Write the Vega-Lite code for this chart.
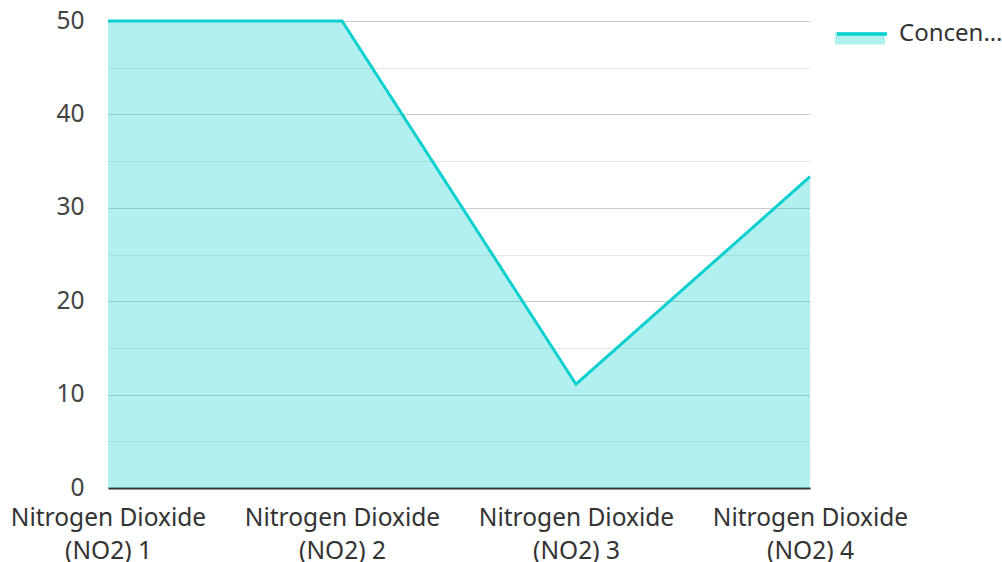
{
  "$schema": "https://vega.github.io/schema/vega-lite/v6.json",
  "width": 702,
  "height": 467,
  "autosize": {"type": "none"},
  "padding": {"left": 108, "top": 21, "right": 192, "bottom": 74},
  "background": "white",
  "config": {
    "font": "Noto Sans",
    "view": {"stroke": null}
  },
  "data": {
    "values": [
      {"pollutant": "Nitrogen Dioxide (NO2) 1", "value": 50, "series": "Concentration"},
      {"pollutant": "Nitrogen Dioxide (NO2) 2", "value": 50, "series": "Concentration"},
      {"pollutant": "Nitrogen Dioxide (NO2) 3", "value": 11.11, "series": "Concentration"},
      {"pollutant": "Nitrogen Dioxide (NO2) 4", "value": 33.33, "series": "Concentration"}
    ]
  },
  "encoding": {
    "x": {
      "field": "pollutant",
      "type": "ordinal",
      "sort": null,
      "scale": {"type": "point", "padding": 0},
      "axis": {
        "title": null,
        "labelAngle": 0,
        "labelExpr": "[slice(datum.label, 0, 16), slice(datum.label, 17)]",
        "labelFontSize": 24.5,
        "labelColor": "#333333",
        "labelLineHeight": 33,
        "labelPadding": 18,
        "labelLimit": 0,
        "ticks": false,
        "grid": false,
        "domainColor": "#333333",
        "domainWidth": 2
      }
    },
    "y": {
      "field": "value",
      "type": "quantitative",
      "scale": {"domain": [0, 50], "nice": false},
      "axis": {
        "title": null,
        "values": [0, 5, 10, 15, 20, 25, 30, 35, 40, 45, 50],
        "labelExpr": "datum.value % 10 === 0 ? datum.label : ''",
        "labelFontSize": 24.5,
        "labelColor": "#444444",
        "labelPadding": 24,
        "ticks": false,
        "domain": false,
        "grid": true,
        "gridColor": {"condition": {"test": "datum.value % 10 === 0", "value": "#cccccc"}, "value": "#e8e8e8"},
        "gridWidth": 1.2
      }
    }
  },
  "layer": [
    {
      "mark": {"type": "area", "opacity": 0.3},
      "encoding": {
        "fill": {
          "field": "series",
          "type": "nominal",
          "scale": {"range": ["#00cccc"]},
          "legend": {
            "orient": "none",
            "legendX": 727,
            "legendY": -14,
            "title": null,
            "symbolType": "M-1,0H1V0.5H-1Z",
            "symbolSize": 2500,
            "symbolOpacity": 0.3,
            "symbolStrokeWidth": 0,
            "labelExpr": "''",
            "labelFontSize": 24
          }
        }
      }
    },
    {
      "mark": {"type": "line", "strokeWidth": 3},
      "encoding": {
        "stroke": {
          "field": "series",
          "type": "nominal",
          "scale": {"range": ["#0ccfcf"]},
          "legend": {
            "orient": "none",
            "legendX": 727,
            "legendY": -14,
            "title": null,
            "symbolType": "M-1,0H1",
            "symbolSize": 2500,
            "symbolStrokeWidth": 3.5,
            "labelFontSize": 24,
            "labelColor": "#333333",
            "labelLimit": 106,
            "labelOffset": 10
          }
        }
      }
    }
  ],
  "resolve": {"scale": {"fill": "independent", "stroke": "independent"}, "legend": {"fill": "independent", "stroke": "independent"}}
}
